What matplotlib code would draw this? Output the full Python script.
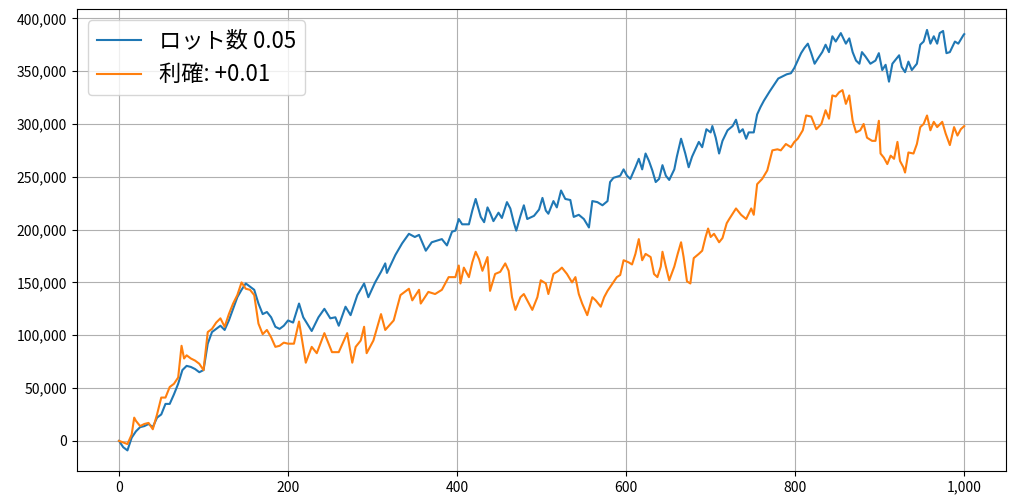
import numpy as np
import matplotlib
matplotlib.use("Agg")
import matplotlib.pyplot as plt
from matplotlib.ticker import FuncFormatter

plt.rcParams['font.family'] = ['Noto Sans CJK JP', 'DejaVu Sans']

# ロット数 0.05 (青)  値は千単位
x_lot = [0, 5, 10, 15, 20, 25, 30, 35, 40, 45, 50, 55, 60, 65, 70, 75, 80, 85, 90, 95,
         100, 105, 110, 115, 120, 125, 130, 135, 140, 145, 150, 155, 160, 165, 170, 175,
         180, 185, 190, 195, 200, 206, 213, 218, 228, 236, 243, 250, 256, 260, 268, 274,
         282, 290, 295, 303, 310, 315, 317, 327, 335, 343, 350, 355, 363, 370, 382, 388,
         394, 398, 402, 406, 414, 418, 422, 428, 432, 436, 439, 443, 449, 453, 459, 463,
         467, 470, 475, 479, 483, 491, 497, 501, 505, 508, 514, 518, 523, 528, 534, 538,
         544, 550, 556, 560, 566, 572, 578, 581, 585, 589, 593, 597, 601, 605, 611, 615,
         619, 623, 627, 631, 635, 639, 643, 647, 651, 657, 660, 665, 670, 674, 678, 682,
         686, 690, 695, 700, 702, 706, 710, 714, 720, 726, 730, 734, 738, 742, 745, 751,
         755, 759, 763, 770, 780, 790, 795, 799, 803, 807, 811, 815, 819, 823, 827, 832,
         836, 840, 844, 848, 854, 860, 864, 868, 872, 876, 879, 883, 889, 895, 899, 903,
         907, 911, 915, 923, 926, 930, 934, 938, 944, 948, 952, 956, 960, 964, 968, 971,
         975, 979, 983, 989, 993, 999, 1000]
y_lot = [0, -6, -9, 3, 9, 13, 14, 16, 13, 22, 25, 35, 35, 44, 54, 67, 71, 70, 68, 65,
         67, 92, 103, 106, 109, 105, 114, 125, 136, 143, 149, 146, 143, 130, 120, 122,
         117, 108, 106, 109, 114, 112, 130, 117, 104, 117, 125, 116, 117, 109, 127, 119,
         138, 149, 136, 150, 160, 168, 159, 176, 187, 196, 193, 195, 180, 188, 191, 185,
         198, 199, 210, 205, 205, 218, 229, 212, 207, 221, 216, 208, 216, 211, 226, 220,
         207, 199, 213, 223, 210, 213, 219, 230, 218, 215, 227, 221, 237, 229, 228, 212,
         214, 210, 202, 227, 226, 223, 227, 245, 249, 250, 251, 257, 251, 248, 259, 267,
         257, 272, 265, 256, 245, 248, 261, 251, 247, 257, 269, 286, 272, 259, 269, 276,
         283, 278, 295, 292, 298, 287, 272, 284, 294, 298, 304, 292, 295, 286, 292, 292,
         309, 316, 322, 331, 343, 347, 348, 353, 360, 367, 372, 376, 367, 357, 362, 368,
         375, 368, 383, 378, 386, 376, 381, 368, 360, 357, 368, 364, 357, 360, 367, 351,
         356, 340, 357, 365, 354, 349, 359, 351, 357, 375, 378, 389, 376, 383, 376, 386,
         388, 367, 368, 378, 376, 384, 385]

# 利確: +0.01 (オレンジ)  値は千単位
x_tp = [0, 5, 10, 15, 18, 20, 25, 30, 35, 40, 45, 50, 55, 60, 65, 70, 74, 77, 80, 85,
        90, 95, 100, 105, 110, 115, 120, 125, 130, 135, 140, 145, 150, 155, 160, 165,
        170, 175, 180, 185, 190, 195, 200, 207, 213, 221, 228, 234, 243, 252, 260, 270,
        276, 280, 286, 290, 293, 301, 310, 315, 325, 333, 343, 347, 355, 357, 366, 374,
        382, 390, 398, 402, 404, 408, 414, 418, 422, 426, 430, 436, 439, 445, 451, 457,
        461, 465, 469, 475, 479, 483, 489, 495, 499, 505, 508, 514, 520, 524, 530, 536,
        540, 544, 548, 554, 560, 564, 570, 574, 578, 584, 589, 593, 597, 603, 607, 611,
        615, 619, 623, 629, 633, 637, 641, 643, 647, 651, 657, 661, 665, 668, 672, 676,
        680, 686, 690, 694, 697, 700, 704, 710, 714, 719, 722, 730, 736, 742, 748, 751,
        755, 761, 767, 773, 779, 783, 789, 795, 799, 803, 809, 813, 819, 825, 831, 836,
        840, 844, 848, 852, 856, 860, 864, 868, 872, 877, 881, 885, 891, 895, 899, 901,
        905, 909, 913, 917, 921, 924, 928, 930, 934, 940, 944, 948, 952, 956, 960, 964,
        968, 974, 978, 983, 988, 992, 996, 1000]
y_tp = [0, -1.5, -3, 6, 22, 19, 14, 16, 17, 11, 25, 41, 41, 51, 54, 60, 90, 78, 81, 78,
        76, 73, 67, 103, 106, 112, 116, 108, 120, 130, 138, 150, 144, 143, 138, 111,
        101, 105, 98, 89, 90, 93, 92, 92, 113, 74, 89, 83, 102, 84, 84, 102,
        74, 89, 95, 108, 83, 95, 120, 105, 114, 138, 144, 133, 143, 130, 141, 139,
        143, 155, 155, 166, 149, 164, 155, 169, 179, 172, 161, 174, 142, 158, 160, 168,
        161, 136, 124, 136, 139, 133, 124, 136, 152, 149, 139, 158, 161, 164, 158, 150,
        155, 139, 130, 119, 136, 133, 127, 136, 142, 149, 155, 157, 171, 169, 167, 177,
        191, 171, 177, 174, 158, 155, 165, 179, 165, 152, 165, 177, 188, 174, 151, 149,
        173, 177, 180, 193, 201, 193, 196, 188, 192, 206, 210, 220, 214, 210, 220, 214,
        243, 248, 256, 275, 276, 275, 281, 278, 283, 286, 294, 308, 307, 295, 300, 313,
        305, 327, 326, 330, 332, 319, 327, 303, 292, 294, 300, 287, 284, 284, 303, 272,
        268, 262, 270, 267, 283, 265, 259, 254, 273, 272, 281, 297, 300, 308, 294, 302,
        297, 302, 291, 280, 297, 289, 295, 298]

fig = plt.figure(figsize=(10.15, 5.04), dpi=100)
ax = fig.add_axes([0.0756, 0.0655, 0.916, 0.916])

ax.plot(x_lot, np.array(y_lot) * 1000, color='#1f77b4', linewidth=1.5, label='ロット数 0.05')
ax.plot(x_tp, np.array(y_tp) * 1000, color='#ff7f0e', linewidth=1.5, label='利確: +0.01')

ax.set_xlim(-50, 1050)
ax.set_ylim(-28500, 408500)
ax.set_xticks([0, 200, 400, 600, 800, 1000])
ax.set_yticks(range(0, 400001, 50000))
fmt = FuncFormatter(lambda v, p: f'{int(v):,}')
ax.xaxis.set_major_formatter(fmt)
ax.yaxis.set_major_formatter(fmt)
ax.tick_params(labelsize=10)
ax.grid(True, color='#b0b0b0', linewidth=0.8)
ax.legend(loc='upper left', fontsize=16)

fig.savefig('out.png', dpi=100)
